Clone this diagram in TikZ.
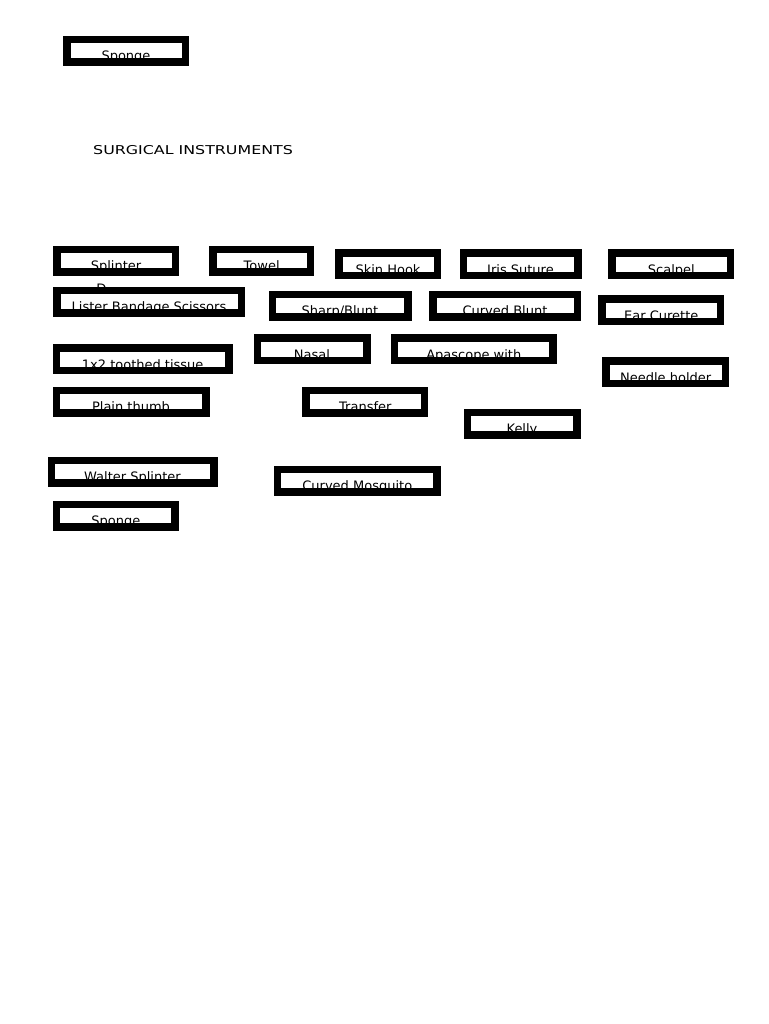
\documentclass[tikz,border=0pt]{standalone}
\usepackage{fontspec}
\setmainfont{DejaVu Sans}
\usepackage{graphicx}
\usepackage{tikz}
\usetikzlibrary{positioning}

\begin{document}
\begin{tikzpicture}[x=1pt, y=-1pt,
            instr/.style={draw, line width=7.5pt, minimum height=22.5pt, inner sep=0pt,
                text height=20pt, text depth=0pt, font=\fontsize{13}{15}\selectfont},
            heading/.style={anchor=base west, inner sep=0pt, font=\fontsize{12.2}{14}\selectfont}]
            \useasboundingbox (0,0) rectangle (768,1024);

            \node[instr, minimum width=118.5pt] (spongeA) at (126,51) {Sponge};
            \node[heading] (title) at (93,154.5) {\scalebox{1.3}[1]{SURGICAL INSTRUMENTS}};

            \node[instr, minimum width=118.5pt] (splinter) at (116,260.5) {Splinter};
            \node[instr, minimum width=97.5pt] (towel) at (261.7,260.5) {Towel};
            \node[instr, minimum width=98.5pt] (skinhook) at (388,264.3) {Skin Hook};
            \node[instr, minimum width=114.5pt] (iris) at (520.5,264.3) {Iris Suture};
            \node[instr, minimum width=118.5pt] (scalpel) at (671.3,264.3) {Scalpel};

            \node[anchor=base, inner sep=0pt, font=\fontsize{13}{15}\selectfont] (dee) at (101.5,293) {D};
            \node[instr, minimum width=184.5pt] (lister) at (149,301.7) {Lister Bandage Scissors};
            \node[instr, minimum width=135.5pt] (sharp) at (340,305.7) {Sharp/Blunt};
            \node[instr, minimum width=144.5pt] (curvedblunt) at (505,305.7) {Curved Blunt};
            \node[instr, minimum width=118.5pt] (ear) at (661.3,310) {Ear Curette};

            \node[instr, minimum width=109.5pt] (nasal) at (312,349.3) {Nasal};
            \node[instr, minimum width=158.5pt] (apascope) at (473.8,349.3) {Apascope with};
            \node[instr, minimum width=172.5pt] (toothed) at (142.7,359.3) {1x2 toothed tissue};
            \node[instr, minimum width=119.5pt] (needle) at (665.7,372.3) {Needle holder};

            \node[instr, minimum width=149.5pt] (thumb) at (131,401.7) {Plain thumb};
            \node[instr, minimum width=118.5pt] (transfer) at (365.3,401.7) {Transfer};
            \node[instr, minimum width=109.5pt] (kelly) at (522,423.7) {Kelly};

            \node[instr, minimum width=162.5pt] (walter) at (132.5,471.7) {Walter Splinter};
            \node[instr, minimum width=159.5pt] (mosquito) at (357.3,480.7) {Curved Mosquito};
            \node[instr, minimum width=118.5pt] (spongeB) at (115.8,515.8) {Sponge};
        \end{tikzpicture}
\end{document}
